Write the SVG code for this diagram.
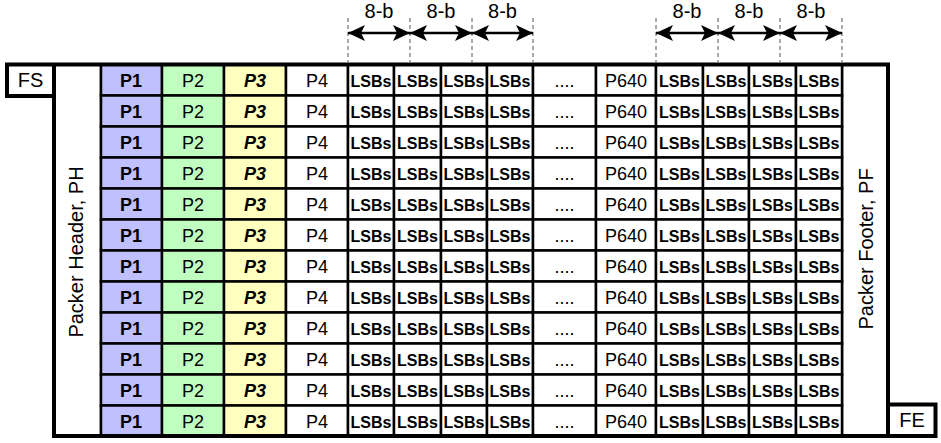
<svg xmlns="http://www.w3.org/2000/svg" width="941" height="443" viewBox="0 0 941 443">
<style>
text{font-family:"Liberation Sans",Arial,sans-serif;fill:#000}
.c{stroke:#000;stroke-width:2.5;fill:#fff}
.p1{fill:#c0c0ff}.p2{fill:#c0ffc0}.p3{fill:#ffffc0}
.t{font-size:18px;text-anchor:middle}
.b{font-weight:bold}
.i{font-style:italic}
.l{font-size:17px;font-weight:bold;text-anchor:middle}
.big{font-size:20px;text-anchor:middle}
.dash{stroke:#555;stroke-width:1;stroke-dasharray:4 3;fill:none}
.arr{stroke:#000;stroke-width:2.5;fill:none;marker-start:url(#ah);marker-end:url(#ah)}
</style>
<defs>
<marker id="ah" markerUnits="userSpaceOnUse" markerWidth="18" markerHeight="18" refX="17" refY="8" orient="auto-start-reverse" viewBox="0 0 18 16">
<path d="M17,8 L0,0 L4,8 L0,16 Z" fill="#000"/>
</marker>
<g id="rowtpl">
<rect class="c p1" x="101" y="0" width="61" height="31"/>
<rect class="c p2" x="162" y="0" width="62" height="31"/>
<rect class="c p3" x="224" y="0" width="62" height="31"/>
<rect class="c" x="286" y="0" width="62" height="31"/>
<rect class="c" x="348" y="0" width="46" height="31"/>
<rect class="c" x="394" y="0" width="47" height="31"/>
<rect class="c" x="441" y="0" width="46" height="31"/>
<rect class="c" x="487" y="0" width="46" height="31"/>
<rect class="c" x="533" y="0" width="63" height="31"/>
<rect class="c" x="596" y="0" width="60" height="31"/>
<rect class="c" x="656" y="0" width="47" height="31"/>
<rect class="c" x="703" y="0" width="46" height="31"/>
<rect class="c" x="749" y="0" width="47" height="31"/>
<rect class="c" x="796" y="0" width="46" height="31"/>
<text class="t b" x="131" y="22">P1</text>
<text class="t" x="193" y="22">P2</text>
<text class="t b i" x="255" y="22">P3</text>
<text class="t" x="317" y="22">P4</text>
<text class="l" x="371" y="22" textLength="41" lengthAdjust="spacingAndGlyphs">LSBs</text>
<text class="l" x="417.5" y="22" textLength="41" lengthAdjust="spacingAndGlyphs">LSBs</text>
<text class="l" x="464" y="22" textLength="41" lengthAdjust="spacingAndGlyphs">LSBs</text>
<text class="l" x="510" y="22" textLength="41" lengthAdjust="spacingAndGlyphs">LSBs</text>
<text class="t" x="564.5" y="22">....</text>
<text class="t" x="626" y="22">P640</text>
<text class="l" x="679.5" y="22" textLength="41" lengthAdjust="spacingAndGlyphs">LSBs</text>
<text class="l" x="726" y="22" textLength="41" lengthAdjust="spacingAndGlyphs">LSBs</text>
<text class="l" x="772.5" y="22" textLength="41" lengthAdjust="spacingAndGlyphs">LSBs</text>
<text class="l" x="819" y="22" textLength="41" lengthAdjust="spacingAndGlyphs">LSBs</text>
</g>
</defs>
<rect width="941" height="443" fill="#fff"/>
<g id="packer-header">
<rect class="c" x="54" y="64.5" width="47" height="372"/>
<text class="big" transform="translate(83,252) rotate(-90)">Packer Header, PH</text>
</g>
<g id="packer-footer">
<rect class="c" x="842" y="64.5" width="46" height="372"/>
<text class="big" transform="translate(873,249) rotate(-90)">Packer Footer, PF</text>
</g>
<g id="rows">
<g id="row1"><use href="#rowtpl" y="64.5"/></g>
<g id="row2"><use href="#rowtpl" y="95.5"/></g>
<g id="row3"><use href="#rowtpl" y="126.5"/></g>
<g id="row4"><use href="#rowtpl" y="157.5"/></g>
<g id="row5"><use href="#rowtpl" y="188.5"/></g>
<g id="row6"><use href="#rowtpl" y="219.5"/></g>
<g id="row7"><use href="#rowtpl" y="250.5"/></g>
<g id="row8"><use href="#rowtpl" y="281.5"/></g>
<g id="row9"><use href="#rowtpl" y="312.5"/></g>
<g id="row10"><use href="#rowtpl" y="343.5"/></g>
<g id="row11"><use href="#rowtpl" y="374.5"/></g>
<g id="row12"><use href="#rowtpl" y="405.5"/></g>
</g>
<g id="frame">
<path d="M7,64.5 H888 V404.5 H935.5 V436 H54 V96 H7 Z" fill="none" stroke="#000" stroke-width="4"/>
<line x1="54" y1="64.5" x2="54" y2="96" stroke="#000" stroke-width="4"/>
<line x1="888" y1="404.5" x2="888" y2="436" stroke="#000" stroke-width="4"/>
</g>
<g id="FS"><text class="big" x="30.5" y="87">FS</text></g>
<g id="FE"><text class="big" x="912" y="427">FE</text></g>
<g id="connectors">
<line class="dash" x1="348" y1="18" x2="348" y2="62"/>
<line class="dash" x1="410" y1="18" x2="410" y2="62"/>
<line class="dash" x1="472" y1="18" x2="472" y2="62"/>
<line class="dash" x1="533" y1="18" x2="533" y2="62"/>
<line class="dash" x1="656" y1="18" x2="656" y2="62"/>
<line class="dash" x1="718" y1="18" x2="718" y2="62"/>
<line class="dash" x1="780" y1="18" x2="780" y2="62"/>
<line class="dash" x1="842" y1="18" x2="842" y2="62"/>
<line class="arr" x1="348" y1="33" x2="410" y2="33"/>
<line class="arr" x1="410" y1="33" x2="472" y2="33"/>
<line class="arr" x1="472" y1="33" x2="533" y2="33"/>
<line class="arr" x1="656" y1="33" x2="718" y2="33"/>
<line class="arr" x1="718" y1="33" x2="780" y2="33"/>
<line class="arr" x1="780" y1="33" x2="842" y2="33"/>
</g>
<g id="labels">
<text class="big" x="379" y="18">8-b</text>
<text class="big" x="441" y="18">8-b</text>
<text class="big" x="502.5" y="18">8-b</text>
<text class="big" x="687" y="18">8-b</text>
<text class="big" x="749" y="18">8-b</text>
<text class="big" x="811" y="18">8-b</text>
</g>
</svg>
